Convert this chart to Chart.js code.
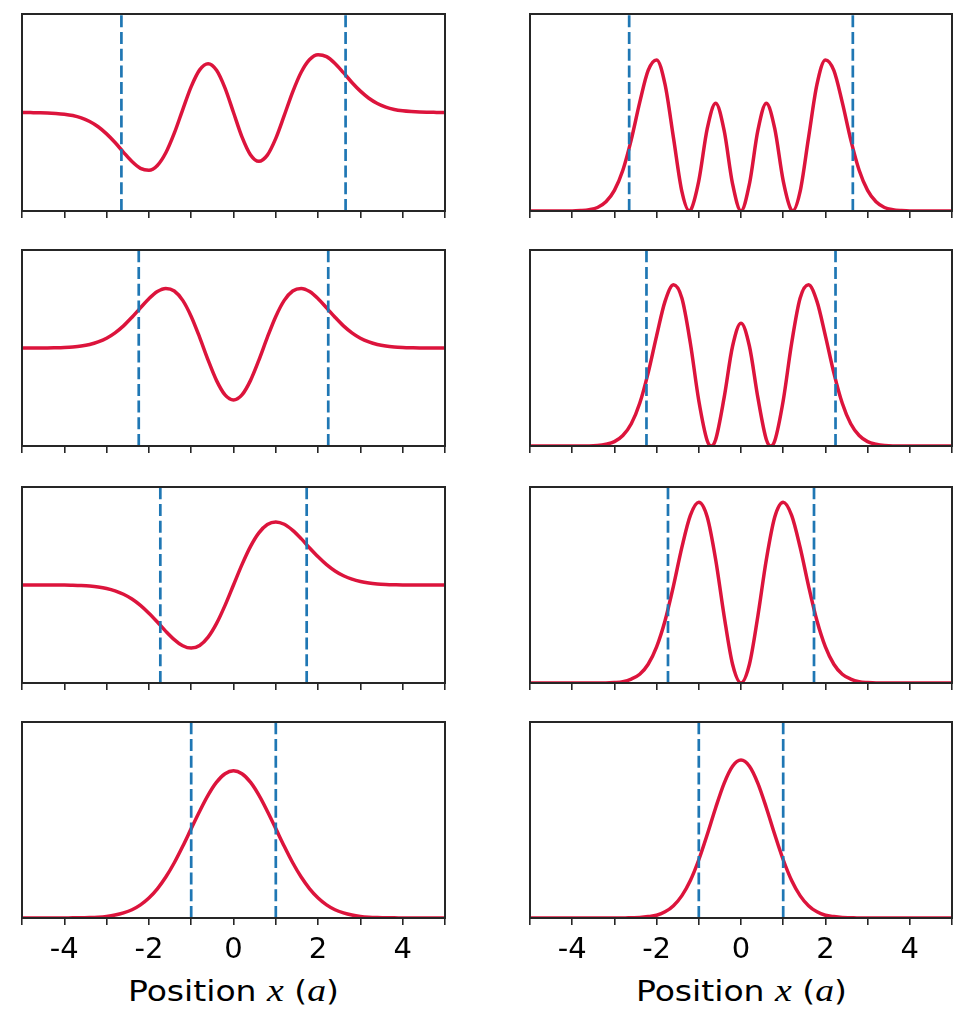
<!DOCTYPE html>
<html>
<head>
<meta charset="utf-8">
<script src="https://cdn.jsdelivr.net/npm/chart.js@4.4.1/dist/chart.umd.min.js"></script>
<style>
  body { margin: 0; background: #fff; width: 967px; height: 1025px; position: relative; overflow: hidden; font-family: "DejaVu Sans", sans-serif; }
  canvas { position: absolute; }
  .xlabel { position: absolute; top: 976px; text-align: center; line-height: 28px; white-space: nowrap; color: #000; }
  .xlabel span { display: inline-block; font-size: 28px; transform: scaleX(1.18); }
  .xlabel i { font-family: "Liberation Serif", serif; font-size: 32px; line-height: 28px; }
</style>
</head>
<body>
<div class="xlabel" style="left:22px;width:423px"><span>Position <i>x</i> (<i>a</i>)</span></div>
<div class="xlabel" style="left:530px;width:422px"><span>Position <i>x</i> (<i>a</i>)</span></div>
<script>
const positions = [-5, -4.8, -4.6, -4.4, -4.2, -4, -3.8, -3.6, -3.4, -3.2, -3, -2.8, -2.6, -2.4, -2.2, -2, -1.8, -1.6, -1.4, -1.2, -1, -0.8, -0.6, -0.4, -0.2,
  0, 0.2, 0.4, 0.6, 0.8, 1, 1.2, 1.4, 1.6, 1.8, 2, 2.2, 2.4, 2.6, 2.8, 3, 3.2, 3.4, 3.6, 3.8, 4, 4.2, 4.4, 4.6, 4.8, 5];

// wavefunctions, left column (top to bottom: n = 3, 2, 1, 0)
const psi3 = [0, -0.001, -0.002, -0.004, -0.009, -0.017, -0.031, -0.055, -0.092, -0.145, -0.217, -0.305, -0.404, -0.498, -0.567, -0.587, -0.538, -0.409, -0.210, 0.030, 0.263, 0.433, 0.496, 0.429, 0.248,
  0, -0.248, -0.429, -0.496, -0.433, -0.263, -0.030, 0.210, 0.409, 0.538, 0.587, 0.567, 0.498, 0.404, 0.305, 0.217, 0.145, 0.092, 0.055, 0.031, 0.017, 0.009, 0.004, 0.002, 0.001, 0];
const psi2 = [0, 0, 0.001, 0.001, 0.003, 0.006, 0.011, 0.020, 0.036, 0.062, 0.100, 0.155, 0.226, 0.314, 0.410, 0.503, 0.576, 0.608, 0.582, 0.486, 0.322, 0.108, -0.124, -0.333, -0.479,
  -0.531, -0.479, -0.333, -0.124, 0.108, 0.322, 0.486, 0.582, 0.608, 0.576, 0.503, 0.410, 0.314, 0.226, 0.155, 0.100, 0.062, 0.036, 0.020, 0.011, 0.006, 0.003, 0.001, 0.001, 0, 0];
const psi1 = [0, 0, 0, 0, -0.001, -0.001, -0.003, -0.006, -0.011, -0.020, -0.035, -0.059, -0.094, -0.143, -0.208, -0.288, -0.378, -0.473, -0.558, -0.620, -0.644, -0.617, -0.532, -0.392, -0.208,
  0, 0.208, 0.392, 0.532, 0.617, 0.644, 0.620, 0.558, 0.473, 0.378, 0.288, 0.208, 0.143, 0.094, 0.059, 0.035, 0.020, 0.011, 0.006, 0.003, 0.001, 0.001, 0, 0, 0, 0];
const psi0 = [0, 0, 0, 0, 0, 0, 0.001, 0.001, 0.002, 0.004, 0.008, 0.015, 0.026, 0.042, 0.067, 0.102, 0.149, 0.209, 0.282, 0.366, 0.456, 0.545, 0.627, 0.693, 0.736,
  0.751, 0.736, 0.693, 0.627, 0.545, 0.456, 0.366, 0.282, 0.209, 0.149, 0.102, 0.067, 0.042, 0.026, 0.015, 0.008, 0.004, 0.002, 0.001, 0.001, 0, 0, 0, 0, 0, 0];

// probability densities, right column
const prob3 = [0, 0, 0, 0, 0, 0, 0.001, 0.003, 0.008, 0.021, 0.047, 0.093, 0.163, 0.248, 0.321, 0.345, 0.289, 0.167, 0.044, 0.001, 0.069, 0.188, 0.246, 0.184, 0.062,
  0, 0.062, 0.184, 0.246, 0.188, 0.069, 0.001, 0.044, 0.167, 0.289, 0.345, 0.321, 0.248, 0.163, 0.093, 0.047, 0.021, 0.008, 0.003, 0.001, 0, 0, 0, 0, 0, 0];
const prob2 = [0, 0, 0, 0, 0, 0, 0, 0, 0.001, 0.004, 0.010, 0.024, 0.051, 0.098, 0.168, 0.253, 0.332, 0.370, 0.339, 0.236, 0.104, 0.012, 0.015, 0.111, 0.229,
  0.282, 0.229, 0.111, 0.015, 0.012, 0.104, 0.236, 0.339, 0.370, 0.332, 0.253, 0.168, 0.098, 0.051, 0.024, 0.010, 0.004, 0.001, 0, 0, 0, 0, 0, 0, 0, 0];
const prob1 = [0, 0, 0, 0, 0, 0, 0, 0, 0, 0, 0.001, 0.003, 0.009, 0.020, 0.043, 0.083, 0.143, 0.223, 0.312, 0.385, 0.415, 0.381, 0.283, 0.154, 0.043,
  0, 0.043, 0.154, 0.283, 0.381, 0.415, 0.385, 0.312, 0.223, 0.143, 0.083, 0.043, 0.020, 0.009, 0.003, 0.001, 0, 0, 0, 0, 0, 0, 0, 0, 0, 0];
const prob0 = [0, 0, 0, 0, 0, 0, 0, 0, 0, 0, 0, 0, 0.001, 0.002, 0.005, 0.010, 0.022, 0.044, 0.080, 0.134, 0.208, 0.298, 0.394, 0.481, 0.542,
  0.564, 0.542, 0.481, 0.394, 0.298, 0.208, 0.134, 0.080, 0.044, 0.022, 0.010, 0.005, 0.002, 0.001, 0, 0, 0, 0, 0, 0, 0, 0, 0, 0, 0, 0];

// where the densities touch zero between samples
const nodes3 = [-1.225, 1.225];
const nodes2 = [-0.707, 0.707];

// classical turning points (dashed lines at +/- these)
const turningPoints = [2.65, 2.24, 1.73, 1.0];
const labelledTicks = [-4, -2, 0, 2, 4];

const leftCurves = [psi3, psi2, psi1, psi0];
const rightCurves = [prob3, prob2, prob1, prob0];
const rightNodes = [nodes3, nodes2, [], []];
const leftRange = [[-1, 1], [-1, 1], [-1, 1], [0, 1]];
const rightRange = [[0, 0.45], [0, 0.45], [0, 0.45], [0, 0.7]];

// layout
const rowTops = [14, 250, 487, 722];
const rowHeights = [197, 196, 196, 196];
const colLefts = [22, 530];
const colWidths = [423, 422];
const pad = 12;

const framePlugin = {
  id: 'frame',
  afterDraw(chart) {
    const { ctx, chartArea: a } = chart;
    ctx.save();
    ctx.strokeStyle = '#262626';
    ctx.lineWidth = 2;
    ctx.strokeRect(a.left, a.top, a.right - a.left, a.bottom - a.top);
    ctx.restore();
  }
};

function points(ys, extra) {
  const pts = positions.map((x, i) => ({ x: x, y: ys[i] }));
  extra.forEach(x => pts.push({ x: x, y: 0 }));
  return pts.sort((a, b) => a.x - b.x);
}

function makePanel(row, col) {
  const bottom = row === rowTops.length - 1;
  const axisH = bottom ? 60 : 8;
  const w = colWidths[col], h = rowHeights[row];
  const canvas = document.createElement('canvas');
  canvas.width = w + 2 * pad;
  canvas.height = h + pad + axisH;
  canvas.style.left = (colLefts[col] - pad) + 'px';
  canvas.style.top = (rowTops[row] - pad) + 'px';
  document.body.appendChild(canvas);

  const range = col === 0 ? leftRange[row] : rightRange[row];
  const ys = col === 0 ? leftCurves[row] : rightCurves[row];
  const extra = col === 0 ? [] : rightNodes[row];
  const tp = turningPoints[row];

  const dashed = x => ({
    data: [{ x: x, y: range[0] }, { x: x, y: range[1] }],
    borderColor: '#1f77b4',
    borderWidth: 2.7,
    borderDash: [12, 4.7],
    pointRadius: 0,
    tension: 0,
    clip: 0
  });

  new Chart(canvas, {
    type: 'line',
    data: {
      datasets: [
        dashed(-tp),
        dashed(tp),
        {
          data: points(ys, extra),
          borderColor: '#dc143c',
          borderWidth: 3.5,
          pointRadius: 0,
          tension: 0.4,
          cubicInterpolationMode: 'monotone',
          clip: 0
        }
      ]
    },
    options: {
      responsive: false,
      animation: false,
      events: [],
      layout: { padding: { left: pad, right: pad, top: pad, bottom: 0 } },
      plugins: { legend: { display: false }, tooltip: { enabled: false } },
      scales: {
        x: {
          type: 'linear',
          min: -5,
          max: 5,
          border: { display: false },
          grid: { display: true, drawOnChartArea: false, drawTicks: true, tickLength: 7, color: '#262626', lineWidth: 1.6 },
          ticks: {
            stepSize: 1,
            autoSkip: false,
            maxRotation: 0,
            padding: 8,
            color: '#000',
            font: { family: 'DejaVu Sans', size: 29 },
            callback: v => (bottom && labelledTicks.includes(v)) ? String(v) : ''
          },
          afterFit: s => { s.height = axisH; }
        },
        y: { display: false, min: range[0], max: range[1] }
      }
    },
    plugins: [framePlugin]
  });
}

for (let r = 0; r < rowTops.length; r++) {
  makePanel(r, 0);
  makePanel(r, 1);
}
</script>
</body>
</html>
